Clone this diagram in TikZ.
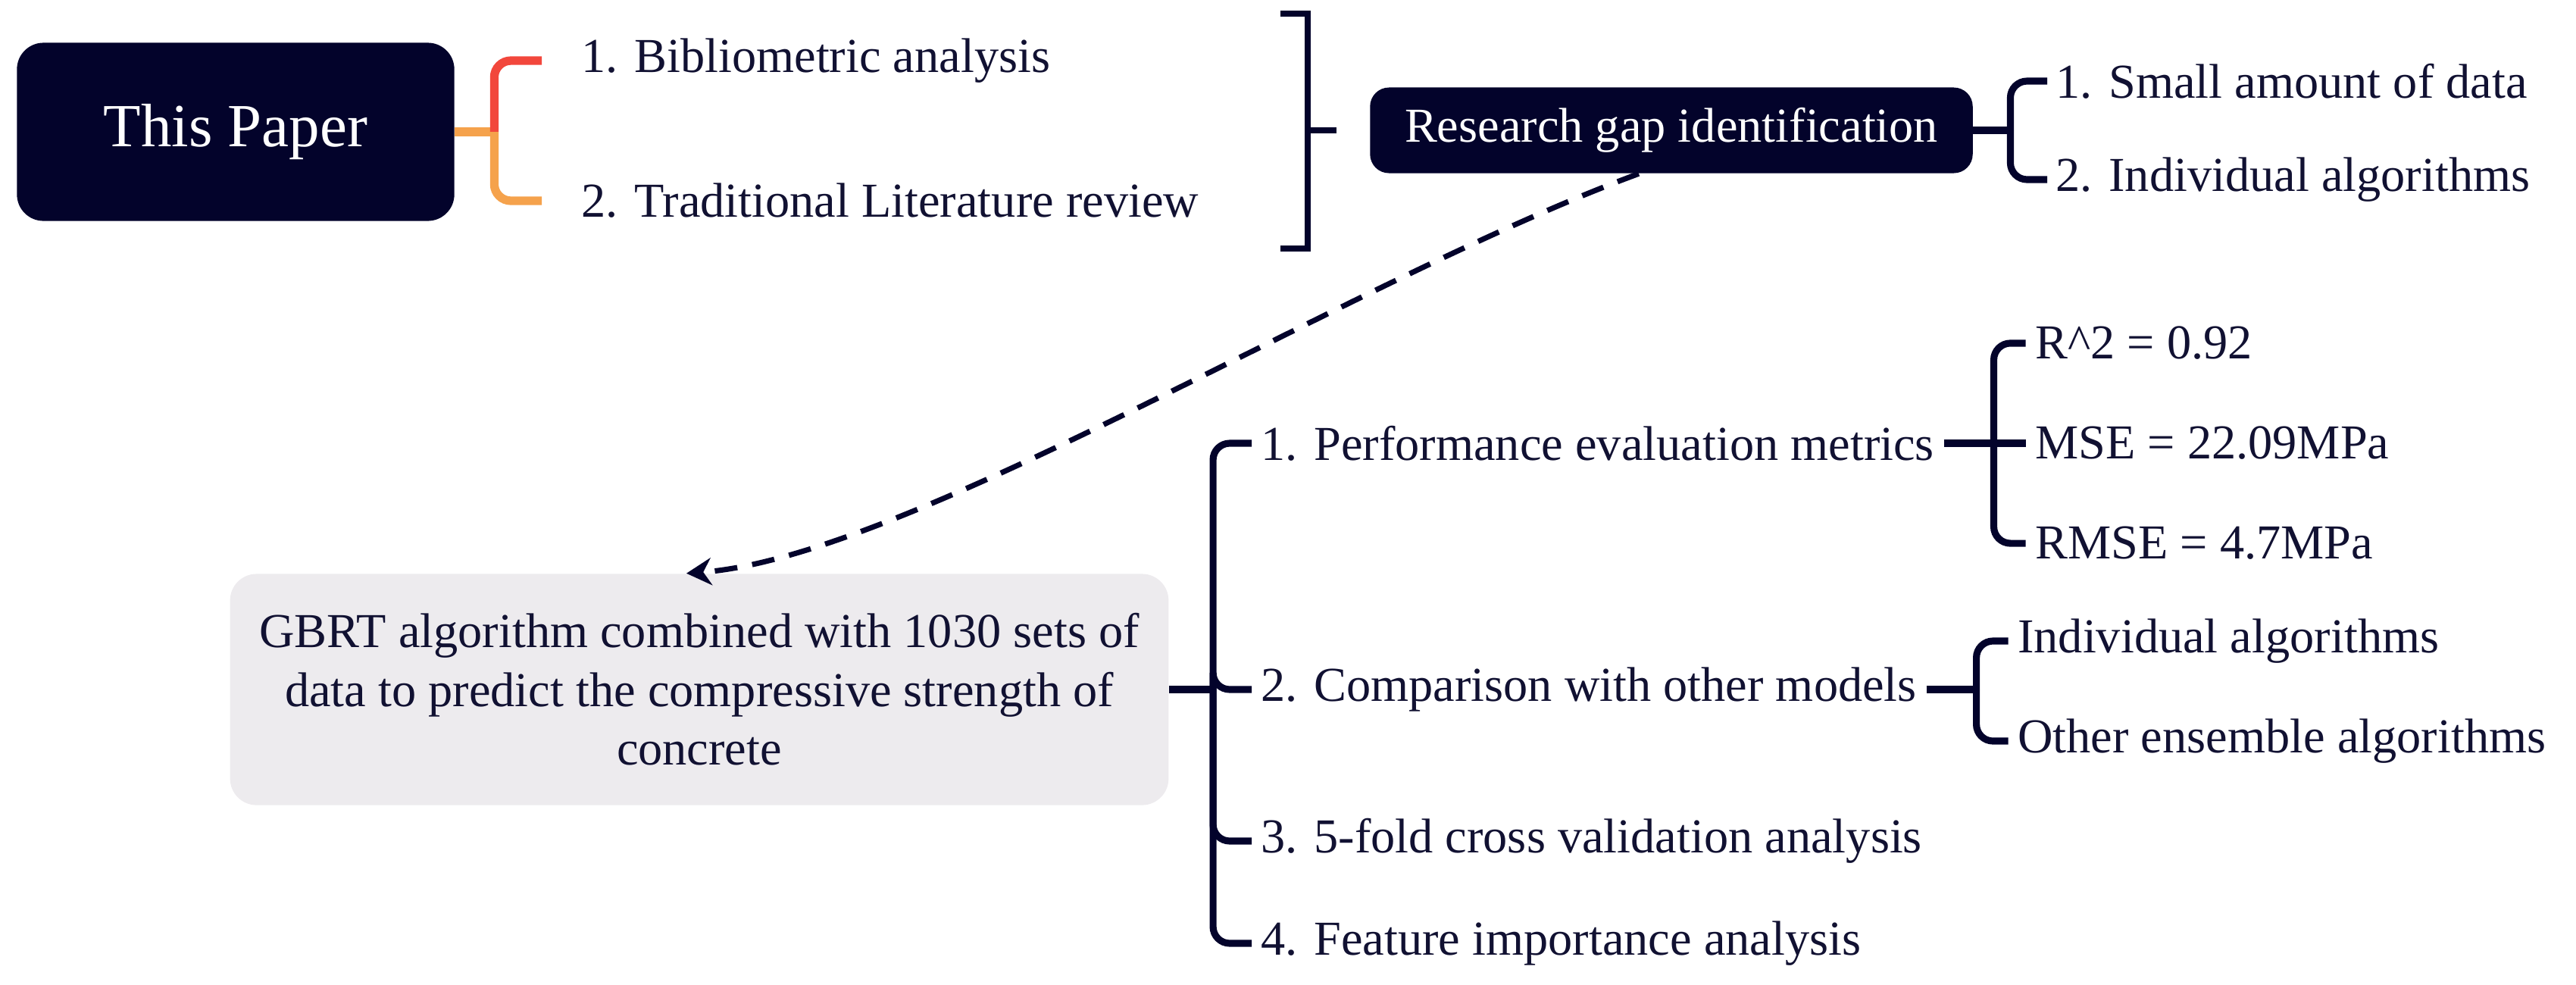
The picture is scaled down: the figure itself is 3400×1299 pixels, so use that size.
\documentclass[tikz,border=0pt]{standalone}
\usepackage{fontspec}
\setmainfont{Liberation Serif}
\usepackage{tikz}
\definecolor{navydrk}{HTML}{03032B}
\definecolor{inkdrk}{HTML}{111132}
\definecolor{boxgrey}{HTML}{EDEBEE}
\definecolor{myred}{HTML}{F2473C}
\definecolor{myorange}{HTML}{F5A24C}
\usetikzlibrary{arrows.meta,positioning}

\begin{document}
\begin{tikzpicture}[x=0.01cm, y=-0.01cm,
	txt/.style={font=\fontsize{18.3}{22}\selectfont, text=inkdrk},
	leaf/.style={txt, anchor=west, inner xsep=0.12cm, inner ysep=0pt},
	hub/.style={txt, fill=navydrk, text=white},
	br/.style={line width=2.6pt, draw=navydrk, rounded corners=0.22cm},
	sq/.style={line width=2.3pt, draw=navydrk}]
		\useasboundingbox (0,0) rectangle (3400,1299);
		
		\node[hub, minimum width=5.77cm, minimum height=2.35cm, rounded corners=0.35cm, font=\fontsize{23}{26}\selectfont] (tp) at (311,174) {This Paper};
		\node[leaf, inner xsep=0.52cm] (bib) at (715,80) {1. Bibliometric analysis};
		\node[leaf, inner xsep=0.52cm] (trad) at (715,265) {2. Traditional Literature review};
		
		\node[hub, minimum width=7.95cm, minimum height=1.13cm, rounded corners=0.25cm] (rg) at (2206,172) {Research gap identification};
		\node[leaf, inner xsep=0.11cm] (small) at (2702,107) {1. Small amount of data};
		\node[leaf, inner xsep=0.11cm] (ind1) at (2702,237) {2. Individual algorithms};
		
		\node[txt, fill=boxgrey, minimum width=12.38cm, minimum height=3.05cm, rounded corners=0.35cm, align=center] (gbrt) at (923,910) {GBRT algorithm combined with 1030 sets of\\ data to predict the compressive strength of\\ concrete};
		
		\node[leaf] (pe) at (1652,585) {1. Performance evaluation metrics};
		\node[leaf] (cmp) at (1652,910) {2. Comparison with other models};
		\node[leaf] (cv) at (1652,1110) {3. 5-fold cross validation analysis};
		\node[leaf] (fi) at (1652,1245) {4. Feature importance analysis};
		
		% review bracket
		\draw[br, line width=3.2pt, draw=myorange] (tp.east) -- ++(52,0) coordinate (j0);
		\draw[br, line width=3.2pt, draw=myred] (j0) |- (bib.west);
		\draw[br, line width=3.2pt, draw=myorange] (j0) |- (trad.west);
		
		% square bracket
		\coordinate (bt) at (1690,18);
		\draw[sq] (bt) -- ++(36,0) -- ++(0,310) -- ++(-36,0);
		\coordinate (bm) at (1726,172);
		\draw[sq] (bm) -- ([xshift=-0.44cm]rg.west);
		
		% gaps
		\draw[br] (rg.east) -- ++(49,0) coordinate (j1);
		\draw[br] (j1) |- (small.west);
		\draw[br] (j1) |- (ind1.west);
		
		\draw[navydrk, line width=2pt, dash pattern=on 0.3cm off 0.2cm, -{Stealth[length=0.33cm, width=0.36cm]}] ([xshift=-0.43cm]rg.south) .. controls (1780,370) and (1200,735) .. ([xshift=-0.17cm]gbrt.north);
		
		% results
		\draw[br] (gbrt.east) -- ++(58,0) coordinate (jm);
		\foreach \n in {pe,cmp,cv,fi}
			\draw[br] (jm) |- (\n.west);
		
		\draw[br] (pe.east) -- ++(66,0) coordinate (jp);
		\node[leaf, right=0.42cm of jp] (mse) {MSE = 22.09MPa};
		\node[leaf] (r2) at ([yshift=1.32cm]mse.west) {R\textasciicircum 2 = 0.92};
		\node[leaf] (rmse) at ([yshift=-1.32cm]mse.west) {RMSE = 4.7MPa};
		\draw[br] (jp) |- (r2.west);
		\draw[br] (jp) -- (mse.west);
		\draw[br] (jp) |- (rmse.west);
		
		\draw[br] (cmp.east) -- ++(66,0) coordinate (jc);
		\coordinate[right=0.42cm of jc] (jcr);
		\node[leaf] (ind2) at ([yshift=0.64cm]jcr) {Individual algorithms};
		\node[leaf] (oth) at ([yshift=-0.68cm]jcr) {Other ensemble algorithms};
		\draw[br] (jc) |- (ind2.west);
		\draw[br] (jc) |- (oth.west);
		
	\end{tikzpicture}
\end{document}
